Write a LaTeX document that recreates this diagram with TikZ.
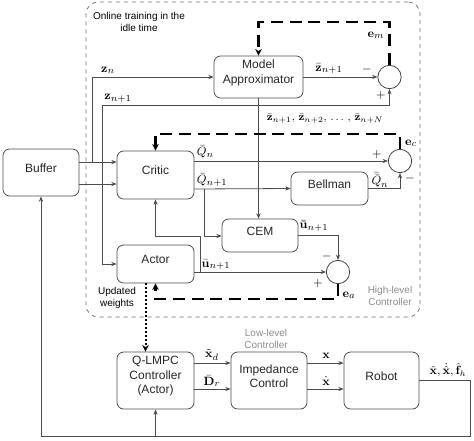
\documentclass[tikz,border=0pt]{standalone}
\usepackage[no-math]{fontspec}
\setmainfont{Liberation Sans}
\usetikzlibrary{arrows.meta,fit,calc}
\begin{document}
\begin{tikzpicture}[x=0.75pt,y=-0.75pt,
  box/.style={draw=black!70, rounded corners=5pt, line width=0.6pt, inner sep=0pt, align=center, font=\fontsize{9}{11}\selectfont, text=black!85},
  sum/.style={draw=black!75, circle, line width=0.6pt, minimum size=17.5pt, inner sep=0pt},
  wire/.style={draw=black!70, line width=0.6pt},
  arr/.style={wire, -{Stealth[length=4pt,width=3.2pt]}},
  fb/.style={draw=black, line width=1.6pt, dash pattern=on 9pt off 5pt, -{Stealth[length=5pt,width=5pt]}},
  dotarr/.style={draw=black, line width=1.5pt, dash pattern=on 1.5pt off 1.5pt, -{Stealth[length=5pt,width=5pt]}},
  lbl/.style={font=\fontsize{9.5}{11}\selectfont, inner sep=0.5pt},
  sgn/.style={font=\fontsize{9}{10}\selectfont, inner sep=0pt},
  note/.style={font=\fontsize{7.5}{9}\selectfont, align=center, inner sep=0pt},
  gnote/.style={note, text=black!45}]
\useasboundingbox (0,0) rectangle (474,440);

% outer region
\node[draw=black!55, dashed, line width=0.6pt, rounded corners=9pt, inner sep=0pt, fit={(86,2)(420,317)}] (region) {};
\node[note] (online) at (139,22) {Online training in the\\idle time};
\node[note] (upd) at (117,298) {Updated\\weights};
\node[gnote] (high) at (390,296) {High-level\\Controller};
\node[gnote] (low) at (266,339) {Low-level\\Controller};

% boxes
\node[box, fit={(3,149)(79,196)}] (buffer) {Buffer};
\node[box, fit={(117,151)(194,199)}] (critic) {Critic};
\node[box, fit={(117,245)(194,283)}] (actor) {Actor};
\node[box, fit={(214,56)(303,98)}] (model) {Model\\Approximator};
\node[box, fit={(291,172)(368,205)}] (bellman) {Bellman};
\node[box, fit={(222,219)(298,252)}] (cem) {CEM};
\node[box, fit={(117,352)(194,409)}] (qlmpc) {Q-LMPC\\Controller\\(Actor)};
\node[box, fit={(231,352)(307,409)}] (imp) {Impedance\\Control};
\node[box, fit={(344,352)(419,409)}] (robot) {Robot};

% summing junctions
\node[sum] (sm) at (389.5,77) {};
\node[sum] (sc) at (400,161) {};
\node[sum] (sa) at (338,272) {};

% buffer to critic
\draw[arr] (buffer.east |- 0,162) -- (critic.west |- 0,162);
\draw[arr] (buffer.east |- 0,184) -- (critic.west |- 0,184);
% z_n
\draw[arr] (92,162) -- (92,77) -- (model.west);
\node[lbl] (zn) at (108,70) {$\mathbf{z}_n$};
% z_{n+1}
\draw[arr] (102,184) -- (102,105) -- (sm.south |- 0,105) -- (sm.south);
\draw[arr] (102,105) -- (102,264) -- (actor.west);
\node[lbl] (zn1) at (118,98) {$\mathbf{z}_{n+1}$};
% model output
\draw[arr] (model.east) -- (sm.west);
\node[lbl] (zb) at (329,69) {$\bar{\mathbf{z}}_{n+1}$};
\node[sgn] (smm) at (367,69) {$-$};
\node[sgn] (smp) at (381,95) {$+$};
\draw[arr] (model.south) -- (model.south |- cem.north);
\node[lbl, font=\fontsize{8.5}{10}\selectfont] (zlist) at (325,119) {$\bar{\mathbf{z}}_{n+1},\,\bar{\mathbf{z}}_{n+2},\,\ldots\,,\,\bar{\mathbf{z}}_{n+N}$};
% e_m
\draw[fb] (sm.north) -- (sm.north |- 0,22) -- (model.north |- 0,22) -- (model.north);
\node[lbl] (em) at (376,35) {$\mathbf{e}_m$};

% critic outputs
\draw[arr] (critic.east |- 0,161) -- (sc.west);
\node[lbl, anchor=west] (qn) at (196,152) {$\bar{Q}_n$};
\node[sgn] (scp) at (377,154) {$+$};
\draw[arr] (critic.east |- 0,189) -- (bellman.west);
\node[lbl, anchor=west] (qn1) at (196,180) {$\bar{Q}_{n+1}$};
\draw[arr] (204,189) -- (204,236) -- (cem.west |- 0,236);
\draw[arr] (bellman.east) -- (sc.south |- bellman.east) -- (sc.south);
\node[lbl] (qbb) at (380,180) {$\bar{\bar{Q}}_n$};
\node[sgn] (scm) at (410,178) {$-$};
% e_c
\draw[fb] (sc.north) -- (sc.north |- 0,134) -- (critic.north |- 0,134) -- (critic.north);
\node[lbl] (ec) at (411,143) {$\mathbf{e}_c$};

% actor outputs
\draw[arr] (actor.east |- 0,272) -- (sa.west);
\node[lbl] (ua) at (216,265) {$\bar{\mathbf{u}}_{n+1}$};
\draw[arr] (200,272) -- (200,236) -- (critic.south |- 0,236) -- (critic.south);
% CEM output
\draw[arr] (cem.east) -- (sa.north |- cem.east) -- (sa.north);
\node[lbl] (ucem) at (314,226) {$\bar{\bar{\mathbf{u}}}_{n+1}$};
\node[sgn] (sam) at (327,256) {$-$};
\node[sgn] (sap) at (318,283) {$+$};
% e_a
\draw[fb] (sa.south) -- (sa.south |- 0,299) -- (actor.south |- 0,299) -- (actor.south);
\node[lbl] (ea) at (349,295) {$\mathbf{e}_a$};

% updated weights
\draw[dotarr] ([xshift=-7.5pt]actor.south) -- ([xshift=-7.5pt]qlmpc.north);

% low level
\draw[arr] (qlmpc.east |- 0,363) -- (imp.west |- 0,363);
\draw[arr] (qlmpc.east |- 0,389) -- (imp.west |- 0,389);
\node[lbl] (xd) at (212,355) {$\tilde{\mathbf{x}}_d$};
\node[lbl] (dr) at (212,381) {$\bar{\mathbf{D}}_r$};
\draw[arr] (imp.east |- 0,363) -- (robot.west |- 0,363);
\draw[arr] (imp.east |- 0,389) -- (robot.west |- 0,389);
\node[lbl] (xx) at (326,356) {$\mathbf{x}$};
\node[lbl] (xdot) at (326,381) {$\dot{\mathbf{x}}$};

% robot feedback
\coordinate (rc) at (470,380.5);
\coordinate (rb) at (470,436);
\draw[arr] (robot.east) -- (rc) -- (rb) -- (buffer.south |- rb) -- (buffer.south);
\draw[arr] (qlmpc.south |- rb) -- (qlmpc.south);
\node[lbl, font=\fontsize{9}{10}\selectfont] (rout) at (448,370) {$\hat{\mathbf{x}},\dot{\hat{\mathbf{x}}},\hat{\mathbf{f}}_h$};
\end{tikzpicture}
\end{document}
